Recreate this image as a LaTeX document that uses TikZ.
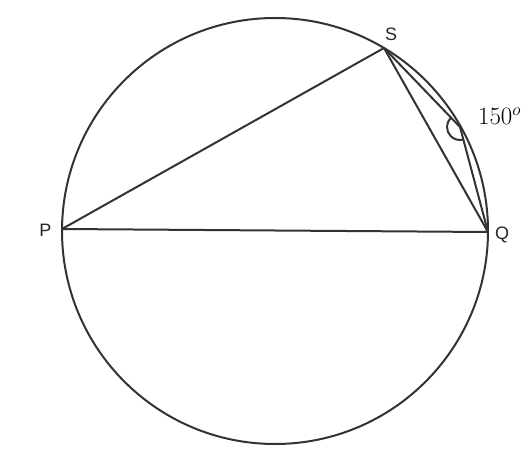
\documentclass[tikz,border=0pt]{standalone}
\usepackage{fontspec}
\newfontfamily\labfont{Liberation Sans}
\definecolor{geo}{RGB}{51,51,51}
\begin{document}
\begin{tikzpicture}[x=1pt,y=-1pt,
  geoline/.style={draw=geo,line width=2pt,line join=round,line cap=round},
  lbl/.style={inner sep=0pt,font=\labfont\fontsize{18}{21}\selectfont,text=black!85}]
\useasboundingbox (0,0) rectangle (525,454);
\coordinate (O) at (275,231);
\coordinate (P) at (62,229);
\coordinate (Q) at (488,232);
\coordinate (S) at (384,48);
\coordinate (R) at (460,127);
\draw[geoline] (O) circle (213pt);
\draw[geoline] (P) -- (S) -- (Q) -- cycle;
\draw[geoline] (S) -- (R) -- (Q);
\draw[geoline] (R) ++(134:13pt) arc[start angle=134,end angle=284,radius=13pt];
\node[lbl] (Pl) at (45.5,230) {P};
\node[lbl] (Ql) at (502,235) {Q};
\node[lbl] (Sl) at (391,34) {S};
\node[inner sep=0pt,anchor=base west,font=\fontsize{23}{27}\selectfont] (ang) at (478,125) {$150^o$};
\end{tikzpicture}
\end{document}
